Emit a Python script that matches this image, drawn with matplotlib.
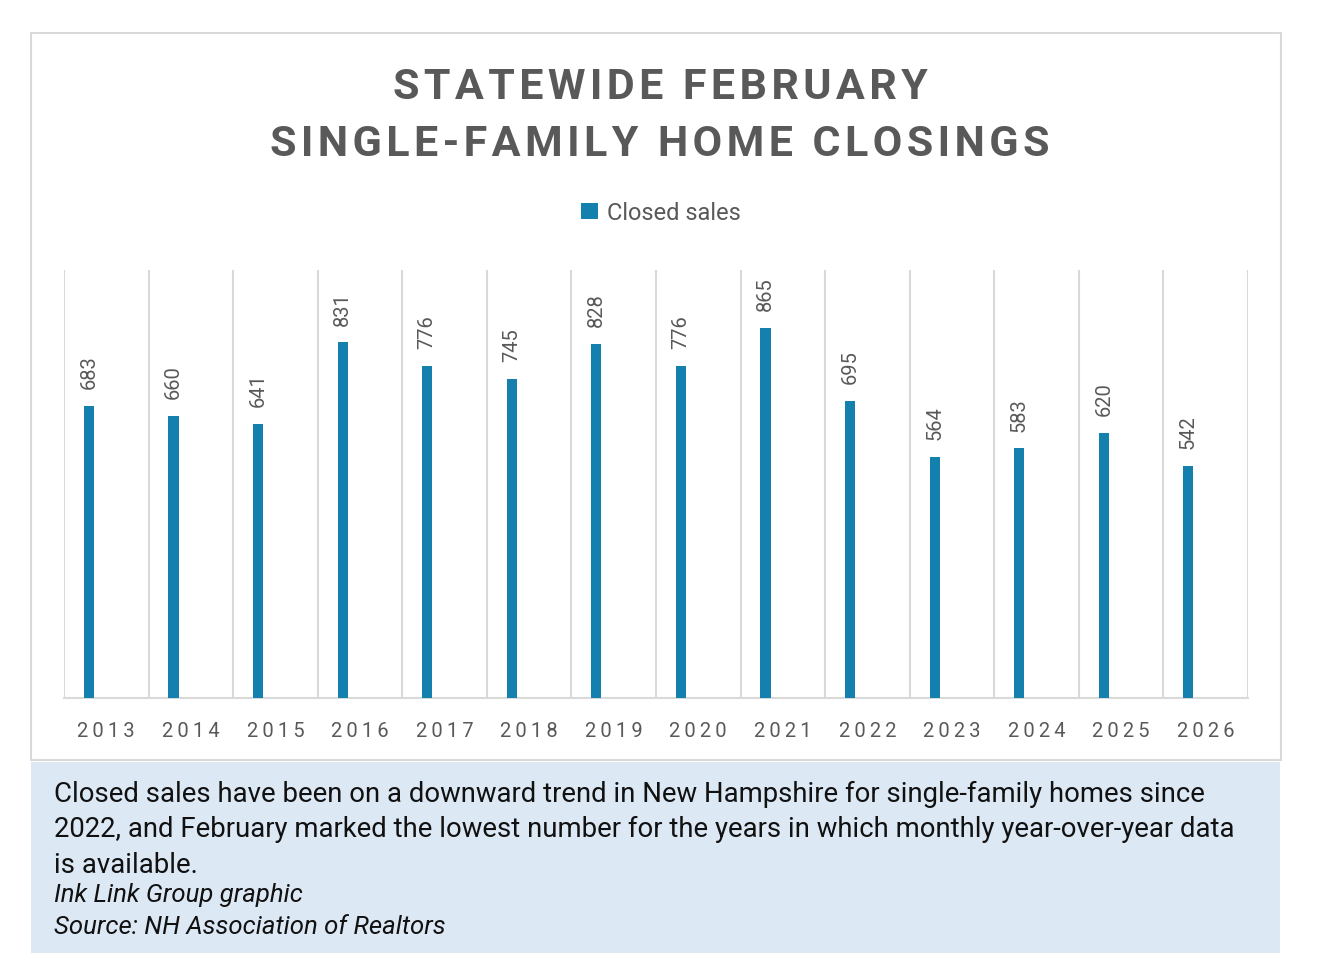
import matplotlib.pyplot as plt
from matplotlib.patches import Rectangle

years = ['2013', '2014', '2015', '2016', '2017', '2018', '2019',
         '2020', '2021', '2022', '2023', '2024', '2025', '2026']
closed_sales = [683, 660, 641, 831, 776, 745, 828, 776, 865, 695, 564, 583, 620, 542]

title = "STATEWIDE FEBRUARY\nSINGLE-FAMILY HOME CLOSINGS"
caption = ("Closed sales have been on a downward trend in New Hampshire for single-family homes since\n"
           "2022, and February marked the lowest number for the years in which monthly year-over-year data\n"
           "is available.")
credit = "Ink Link Group graphic"
source = "Source: NH Association of Realtors"

BAR = '#1380AE'
GRAY = '#595959'
GRID = '#d9d9d9'

plt.rcParams['font.family'] = ['Roboto', 'DejaVu Sans']

W, H = 1320, 972
fig = plt.figure(figsize=(W / 100, H / 100), dpi=100)


def fx(px):
    return px / W


def fy(py):
    return 1 - py / H


def spaced(s, sep='\u200a'):
    return '\n'.join(sep.join(line) for line in s.split('\n'))


# outer white frame and blue caption box
fig.patches.append(Rectangle((fx(31), fy(760)), fx(1281) - fx(31), fy(33) - fy(760),
                             transform=fig.transFigure, facecolor='white',
                             edgecolor=GRID, linewidth=1.5, zorder=-10))
fig.patches.append(Rectangle((fx(31), fy(953)), fx(1280) - fx(31), fy(762) - fy(953),
                             transform=fig.transFigure, facecolor='#dde8f5',
                             edgecolor='none', zorder=-10))

ax = fig.add_axes([fx(64), fy(698), fx(1248) - fx(64), fy(270) - fy(698)])
x = list(range(len(years)))
# bars sit left of the category centre (second series slot is empty)
bx = [i - 0.205 for i in x]
ax.bar(bx, closed_sales, width=0.12, color=BAR, zorder=3, label='Closed sales')
ax.set_xlim(-0.5, len(years) - 0.5)
ax.set_ylim(0, 1000)
for b in [i - 0.5 for i in range(len(years) + 1)]:
    ax.axvline(b, color=GRID, linewidth=1.5, zorder=1)
for s in ['top', 'right', 'left']:
    ax.spines[s].set_visible(False)
ax.spines['bottom'].set_color(GRID)
ax.spines['bottom'].set_linewidth(1.5)
ax.set_yticks([])
ax.set_xticks(x)
ax.set_xticklabels([spaced(y, '\u2009') for y in years], fontsize=14.5, color=GRAY)
ax.tick_params(axis='x', length=0, pad=17)
ax.set_facecolor('none')

for xi, v in zip(bx, closed_sales):
    ax.annotate(str(v), (xi, v), xytext=(0, 12), textcoords='offset points',
                rotation=90, ha='center', va='bottom', fontsize=14.5, color=GRAY)

fig.text(0.5, fy(116), spaced(title, '\u200a'), ha='center', va='center',
         fontsize=31, fontweight='bold', color=GRAY, linespacing=1.5)

leg = fig.legend(loc='center', bbox_to_anchor=(fx(661), fy(213)), frameon=False,
                 fontsize=17, handlelength=0.7, handleheight=0.7, handletextpad=0.4)
for t in leg.get_texts():
    t.set_color(GRAY)

fig.text(fx(54), fy(781), caption, ha='left', va='top', fontsize=19.8,
         color='#111111', linespacing=1.39)
fig.text(fx(54), fy(895), credit, ha='left', va='center', fontsize=18.5,
         style='italic', color='#111111')
fig.text(fx(54), fy(927), source, ha='left', va='center', fontsize=18.5,
         style='italic', color='#111111')

fig.savefig('out.png', dpi=100)
